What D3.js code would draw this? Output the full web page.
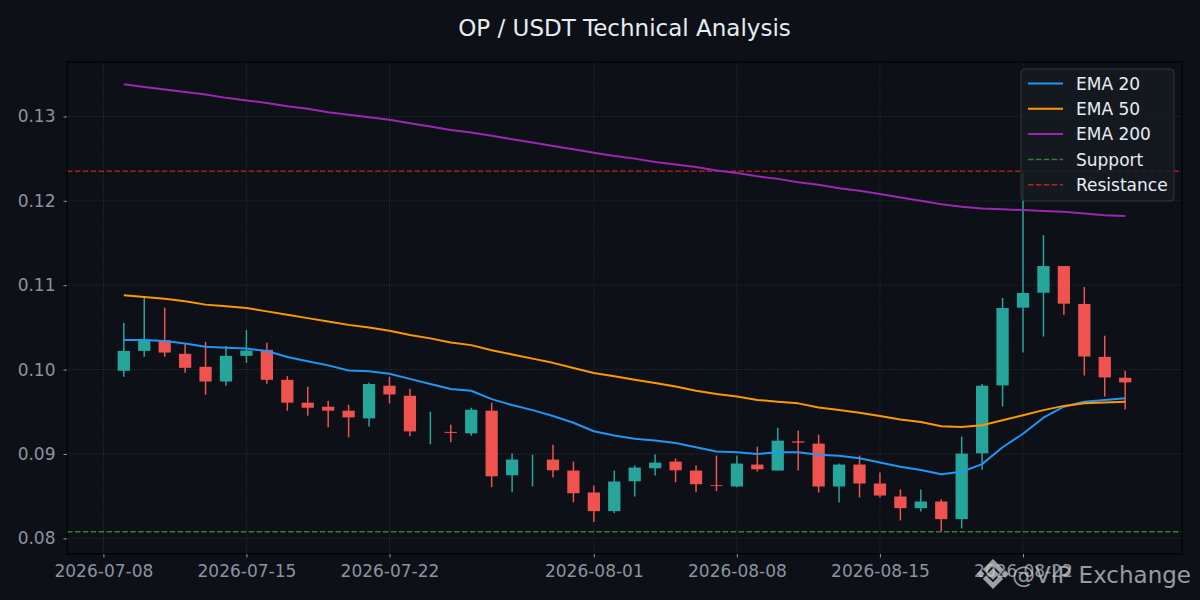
<!DOCTYPE html>
<html>
<head>
<meta charset="utf-8">
<script src="https://cdn.jsdelivr.net/npm/d3@7"></script>
<style>
  html, body { margin: 0; padding: 0; background: #0d1117; }
  svg { display: block; font-family: "DejaVu Sans", sans-serif; }
</style>
</head>
<body>
<div id="chart"></div>
<script>
// ---- data ----
const dates = [
  "2026-07-09","2026-07-10","2026-07-11","2026-07-12","2026-07-13","2026-07-14","2026-07-15",
  "2026-07-16","2026-07-17","2026-07-18","2026-07-19","2026-07-20","2026-07-21","2026-07-22",
  "2026-07-23","2026-07-24","2026-07-25","2026-07-26","2026-07-27","2026-07-28","2026-07-29",
  "2026-07-30","2026-07-31","2026-08-01","2026-08-02","2026-08-03","2026-08-04","2026-08-05",
  "2026-08-06","2026-08-07","2026-08-08","2026-08-09","2026-08-10","2026-08-11","2026-08-12",
  "2026-08-13","2026-08-14","2026-08-15","2026-08-16","2026-08-17","2026-08-18","2026-08-19",
  "2026-08-20","2026-08-21","2026-08-22","2026-08-23","2026-08-24","2026-08-25","2026-08-26",
  "2026-08-27"
];
const open = [
  0.09986,0.10222,0.10349,0.10187,0.10033,0.09859,0.10163,0.10234,0.09879,0.09608,
  0.09560,0.09513,0.09422,0.09809,0.09690,0.09268,0.09262,0.09245,0.09513,0.08748,
  0.08934,0.08934,0.08804,0.08544,0.08323,0.08677,0.08831,0.08910,0.08804,0.08630,
  0.08615,0.08875,0.08804,0.09150,0.09123,0.08615,0.08875,0.08650,0.08496,0.08358,
  0.08437,0.08228,0.09008,0.09813,0.10734,0.10911,0.11227,0.10778,0.10151,0.09903
];
const high = [
  0.10553,0.10852,0.10734,0.10301,0.10329,0.10281,0.10470,0.10317,0.09923,0.09797,
  0.09631,0.09584,0.09844,0.09915,0.09773,0.09501,0.09348,0.09548,0.09608,0.09005,
  0.08993,0.09111,0.08910,0.08626,0.08804,0.08863,0.08993,0.08946,0.08863,0.08981,
  0.08981,0.09087,0.09312,0.09277,0.09229,0.08887,0.08981,0.08780,0.08579,0.08579,
  0.08461,0.09206,0.09829,0.10849,0.12330,0.11593,0.11227,0.10979,0.10400,0.09986
];
const low = [
  0.09915,0.10151,0.10151,0.09962,0.09702,0.09809,0.10080,0.09832,0.09513,0.09454,
  0.09316,0.09197,0.09327,0.09599,0.09209,0.09115,0.09138,0.09217,0.08607,0.08547,
  0.08615,0.08721,0.08429,0.08193,0.08299,0.08496,0.08745,0.08665,0.08547,0.08559,
  0.08607,0.08792,0.08804,0.08804,0.08544,0.08426,0.08485,0.08485,0.08213,0.08319,
  0.08083,0.08118,0.08812,0.09564,0.10202,0.10391,0.10651,0.09930,0.09682,0.09528
];
const close = [
  0.10222,0.10349,0.10202,0.10021,0.09859,0.10163,0.10226,0.09879,0.09608,0.09548,
  0.09513,0.09434,0.09829,0.09706,0.09268,0.09268,0.09250,0.09525,0.08736,0.08934,
  0.08934,0.08807,0.08535,0.08323,0.08674,0.08839,0.08898,0.08807,0.08642,0.08620,
  0.08887,0.08819,0.09158,0.09135,0.08615,0.08875,0.08650,0.08508,0.08358,0.08437,
  0.08228,0.09005,0.09809,0.10730,0.10908,0.11227,0.10781,0.10155,0.09907,0.09848
];
const ema20 = [
  0.1035,0.1035,0.1034,0.1031,0.1027,0.1026,0.1025,0.1022,0.1015,0.1010,
  0.1005,0.0999,0.0998,0.0995,0.0989,0.0983,0.0977,0.0975,0.0965,0.0958,
  0.0952,0.0945,0.0937,0.0927,0.0922,0.0918,0.0916,0.0913,0.0908,0.0903,
  0.0902,0.0900,0.0902,0.0902,0.0899,0.0898,0.0895,0.0890,0.0885,0.0881,
  0.0876,0.0879,0.0888,0.0908,0.0924,0.0943,0.0956,0.0962,0.0964,0.0966
];
const ema50 = [
  0.1088,0.1086,0.1084,0.1081,0.1077,0.1075,0.1073,0.1069,0.1065,0.1061,
  0.1057,0.1053,0.1050,0.1046,0.1041,0.1037,0.1032,0.1029,0.1023,0.1018,
  0.1013,0.1008,0.1002,0.0996,0.0992,0.0988,0.0984,0.0980,0.0975,0.0971,
  0.0968,0.0964,0.0962,0.0960,0.0955,0.0952,0.0949,0.0945,0.0941,0.0938,
  0.0933,0.0932,0.0934,0.0940,0.0946,0.0952,0.0957,0.0960,0.0961,0.0962
];
const ema200 = [
  0.1338,0.1335,0.1332,0.1329,0.1326,0.1322,0.1319,0.1316,0.1312,0.1309,
  0.1305,0.1302,0.1299,0.1296,0.1292,0.1288,0.1284,0.1281,0.1277,0.1273,
  0.1269,0.1265,0.1261,0.1257,0.1253,0.1250,0.1246,0.1243,0.1240,0.1236,
  0.1233,0.1229,0.1226,0.1222,0.1219,0.1215,0.1212,0.1208,0.1204,0.1200,
  0.1196,0.1193,0.1191,0.1190,0.1189,0.1188,0.1187,0.1185,0.1183,0.1182
];
const support = 0.0808;
const resistance = 0.1235;
const yTicks = [0.08, 0.09, 0.10, 0.11, 0.12, 0.13];
const xTicks = ["2026-07-08","2026-07-15","2026-07-22","2026-08-01","2026-08-08","2026-08-15","2026-08-22"];

// ---- layout ----
const width = 1200, height = 600;
const margin = {top: 62, right: 18, bottom: 46, left: 67};
const bg = "#0d1117";
const up = "#26a69a", down = "#ef5350";

const parse = d3.utcParse("%Y-%m-%d");
const candles = dates.map((d, i) => ({
  date: parse(d), o: open[i], h: high[i], l: low[i], c: close[i]
}));

const svg = d3.select("#chart").append("svg")
  .attr("width", width).attr("height", height);
svg.append("rect").attr("width", width).attr("height", height).attr("fill", bg);

// x domain: candle extent plus 5% padding (like matplotlib)
const first = candles[0].date, last = candles[candles.length - 1].date;
const dayMs = 864e5;
const halfW = 0.3 * dayMs;
const span = (last - first) + 2 * halfW;
const x = d3.scaleUtc()
  .domain([new Date(+first - halfW - 0.05 * span), new Date(+last + halfW + 0.05 * span)])
  .range([margin.left, width - margin.right]);

const yMin = d3.min([d3.min(low), support, d3.min(ema20), d3.min(ema50)]);
const yMax = d3.max([d3.max(high), resistance, d3.max(ema200)]);
const yPad = (yMax - yMin) * 0.05;
const y = d3.scaleLinear()
  .domain([yMin - yPad, yMax + yPad])
  .range([height - margin.bottom, margin.top]);

const plotW = width - margin.left - margin.right;
const plotH = height - margin.top - margin.bottom;

svg.append("clipPath").attr("id", "clip")
  .append("rect").attr("x", margin.left).attr("y", margin.top)
  .attr("width", plotW).attr("height", plotH);

// ---- grid ----
const grid = svg.append("g");
grid.selectAll(".gy").data(yTicks).enter().append("line")
  .attr("x1", margin.left).attr("x2", width - margin.right)
  .attr("y1", d => y(d)).attr("y2", d => y(d))
  .attr("stroke", "#3a404a").attr("stroke-width", 0.8)
  .attr("stroke-dasharray", "0.8,1.6");
grid.selectAll(".gx").data(xTicks).enter().append("line")
  .attr("x1", d => x(parse(d))).attr("x2", d => x(parse(d)))
  .attr("y1", margin.top).attr("y2", height - margin.bottom)
  .attr("stroke", "#3a404a").attr("stroke-width", 0.8)
  .attr("stroke-dasharray", "0.8,1.6");

const plot = svg.append("g").attr("clip-path", "url(#clip)");

// ---- support / resistance ----
plot.append("line")
  .attr("x1", margin.left).attr("x2", width - margin.right)
  .attr("y1", y(support)).attr("y2", y(support))
  .attr("stroke", "#3d9142").attr("stroke-opacity", 0.85).attr("stroke-width", 1.5)
  .attr("stroke-dasharray", "5.5,2.4");
plot.append("line")
  .attr("x1", margin.left).attr("x2", width - margin.right)
  .attr("y1", y(resistance)).attr("y2", y(resistance))
  .attr("stroke", "#c62828").attr("stroke-opacity", 0.8).attr("stroke-width", 1.5)
  .attr("stroke-dasharray", "5.5,2.4");

// ---- candles ----
const bodyW = x(new Date(+first + 0.6 * dayMs)) - x(first);
const cg = plot.selectAll(".candle").data(candles).enter().append("g");
cg.append("line")
  .attr("x1", d => x(d.date)).attr("x2", d => x(d.date))
  .attr("y1", d => y(d.h)).attr("y2", d => y(d.l))
  .attr("stroke", d => d.c >= d.o ? up : down).attr("stroke-width", 1.5);
cg.append("rect")
  .attr("x", d => x(d.date) - bodyW / 2)
  .attr("width", bodyW)
  .attr("y", d => y(Math.max(d.o, d.c)))
  .attr("height", d => Math.abs(y(d.o) - y(d.c)))
  .attr("fill", d => d.c >= d.o ? up : down);

// ---- EMA lines ----
const emaSeries = [
  {name: "EMA 20", values: ema20, color: "#2196f3"},
  {name: "EMA 50", values: ema50, color: "#ff9800"},
  {name: "EMA 200", values: ema200, color: "#9c27b0"}
];
const line = d3.line().x(d => x(d[0])).y(d => y(d[1]));
emaSeries.forEach(s => {
  plot.append("path")
    .attr("d", line(candles.map((c, i) => [c.date, s.values[i]])))
    .attr("fill", "none").attr("stroke", s.color).attr("stroke-width", 2)
    .attr("stroke-linejoin", "round");
});

// ---- frame ----
svg.append("rect")
  .attr("x", margin.left).attr("y", margin.top)
  .attr("width", plotW).attr("height", plotH)
  .attr("fill", "none").attr("stroke", "#000").attr("stroke-width", 1.2);

// ---- axes ----
const tickColor = "#8b949e";
const yAxis = svg.append("g").attr("transform", `translate(${margin.left},0)`)
  .call(d3.axisLeft(y).tickValues(yTicks).tickFormat(d3.format(".2f")).tickSize(3.5).tickPadding(8));
const xAxis = svg.append("g").attr("transform", `translate(0,${height - margin.bottom})`)
  .call(d3.axisBottom(x).tickValues(xTicks.map(parse)).tickFormat(d3.utcFormat("%Y-%m-%d")).tickSize(3.5).tickPadding(7));
[yAxis, xAxis].forEach(a => {
  a.select(".domain").remove();
  a.selectAll(".tick line").attr("stroke", tickColor);
  a.selectAll(".tick text").attr("fill", tickColor)
    .style("font-family", "DejaVu Sans").style("font-size", "17px");
});

// ---- title ----
svg.append("text")
  .attr("x", margin.left + plotW / 2).attr("y", 36)
  .attr("text-anchor", "middle")
  .attr("fill", "#e6edf3")
  .style("font-size", "23px")
  .text("OP / USDT Technical Analysis");

// ---- legend ----
const legendItems = [
  {name: "EMA 20", color: "#2196f3", dash: null, w: 2},
  {name: "EMA 50", color: "#ff9800", dash: null, w: 2},
  {name: "EMA 200", color: "#9c27b0", dash: null, w: 2},
  {name: "Support", color: "#3d9142", dash: "5.5,2.4", w: 1.5},
  {name: "Resistance", color: "#c62828", dash: "5.5,2.4", w: 1.5}
];
const lg = svg.append("g").attr("transform", "translate(1021,69)");
lg.append("rect")
  .attr("width", 153).attr("height", 132).attr("rx", 4)
  .attr("fill", "#161b22").attr("fill-opacity", 0.85)
  .attr("stroke", "#30363d").attr("stroke-width", 1);
const li = lg.selectAll(".li").data(legendItems).enter().append("g")
  .attr("transform", (d, i) => `translate(0,${14.5 + i * 25.3})`);
li.append("line")
  .attr("x1", 7).attr("x2", 42).attr("y1", 0).attr("y2", 0)
  .attr("stroke", d => d.color).attr("stroke-width", d => d.w)
  .attr("stroke-dasharray", d => d.dash)
  .attr("stroke-opacity", d => d.dash ? 0.85 : 1);
li.append("text")
  .attr("x", 55).attr("y", 0).attr("dy", "0.36em")
  .attr("fill", "#e6edf3").style("font-size", "17px")
  .text(d => d.name);

// ---- watermark ----
const wm = svg.append("g").attr("opacity", 0.75);
const lx = 993, ly = 574, s = 3.4;
const diamond = (cx, cy, r) => `M${cx},${cy - r}L${cx + r},${cy}L${cx},${cy + r}L${cx - r},${cy}Z`;
wm.append("path").attr("d", diamond(lx, ly, 1.7 * s)).attr("fill", "#d0d0d0");
wm.append("path").attr("d", diamond(lx - 3.6 * s, ly, 1.1 * s)).attr("fill", "#d0d0d0");
wm.append("path").attr("d", diamond(lx + 3.6 * s, ly, 1.1 * s)).attr("fill", "#d0d0d0");
wm.append("path")
  .attr("d", `M${lx},${ly - 4.4 * s}L${lx + 3.0 * s},${ly - 1.4 * s}L${lx + 2.0 * s},${ly - 0.4 * s}L${lx},${ly - 2.4 * s}L${lx - 2.0 * s},${ly - 0.4 * s}L${lx - 3.0 * s},${ly - 1.4 * s}Z`)
  .attr("fill", "#d0d0d0");
wm.append("path")
  .attr("d", `M${lx},${ly + 4.4 * s}L${lx + 3.0 * s},${ly + 1.4 * s}L${lx + 2.0 * s},${ly + 0.4 * s}L${lx},${ly + 2.4 * s}L${lx - 2.0 * s},${ly + 0.4 * s}L${lx - 3.0 * s},${ly + 1.4 * s}Z`)
  .attr("fill", "#d0d0d0");
wm.append("text")
  .attr("x", 1191).attr("y", 583)
  .attr("text-anchor", "end")
  .attr("fill", "#c8c8c8")
  .style("font-size", "23px")
  .text("@VIP Exchange");
</script>
</body>
</html>
